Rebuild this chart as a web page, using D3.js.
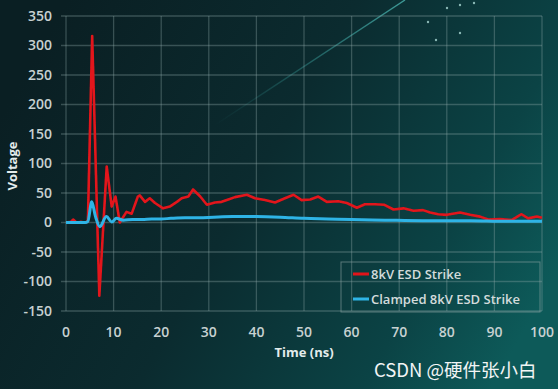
<!DOCTYPE html>
<html>
<head>
<meta charset="utf-8">
<script src="https://cdn.jsdelivr.net/npm/d3@7"></script>
<style>
  html, body { margin: 0; padding: 0; background: #0b2226; }
  svg { display: block; }
</style>
</head>
<body>
<svg id="chart" width="558" height="389"></svg>
<script>
// values
const xTicks = [0, 10, 20, 30, 40, 50, 60, 70, 80, 90, 100];
const yTicks = [-150, -100, -50, 0, 50, 100, 150, 200, 250, 300, 350];
const seriesNames = ["8kV ESD Strike", "Clamped 8kV ESD Strike"];

const strikeTime = [0, 1, 1.5, 2.2, 3, 4, 4.6, 5.5, 7.0, 8.55, 9.6, 10.4, 11.3, 12.7, 13.8, 15.1,
  15.5, 16.6, 17.6, 18.7, 20.4, 21.8, 23.3, 24.3, 25.7, 26.7, 28.2, 29.6, 31.3, 32.7, 34.1,
  35.5, 38, 39.7, 41.8, 43.9, 46, 47.8, 49.5, 51.3, 53, 54.8, 57.2, 59, 61.1, 62.8, 64.9, 66.9,
  68.8, 70.9, 73, 75, 76.5, 78.2, 80, 82.8, 84.9, 87, 88.7, 91.2, 93.6, 95.7, 97.1, 98.9, 100];
const strikeVolts = [0, 1, 5, 0, 1, 0, 2, 316, -124, 95, 27, 44, 0, 18, 15, 44,
  46, 35, 41, 33, 24, 27, 35, 41, 44, 56, 44, 30, 34, 35, 39,
  43, 47, 41, 38, 34, 41, 47, 38, 39, 44, 35, 36, 33, 25, 31, 31, 30,
  22, 24, 20, 21, 17, 14, 13, 17, 13, 10, 5, 6, 4, 14, 7, 10, 8];

const clampTime = [0, 2, 4, 4.6, 5.4, 6.2, 7.1, 8.5, 9.6, 10.6, 12, 14, 16, 18, 20, 22, 25,
  28, 31, 35, 40, 45, 50, 55, 60, 67, 75, 85, 92, 100];
const clampVolts = [0, 0, 0, 2, 35, 10, -7, 10, 1, 7, 4, 5, 5, 6, 6, 7, 8,
  8, 9, 10, 10, 9, 7, 6, 5, 4, 3, 3, 2, 2];

const colors = ["#e2141a", "#2fb4e6"];

const svg = d3.select("#chart");
const W = 558, H = 389;
const margin = { top: 16, right: 16, bottom: 78, left: 66 };
const iw = W - margin.left - margin.right;
const ih = H - margin.top - margin.bottom;

// background
const defs = svg.append("defs");
const bg = defs.append("linearGradient").attr("id", "bg")
  .attr("x1", "0%").attr("y1", "30%").attr("x2", "100%").attr("y2", "70%");
bg.append("stop").attr("offset", "0%").attr("stop-color", "#0a1f23");
bg.append("stop").attr("offset", "45%").attr("stop-color", "#0b2b2f");
bg.append("stop").attr("offset", "80%").attr("stop-color", "#0b4345");
bg.append("stop").attr("offset", "100%").attr("stop-color", "#0d5a59");
svg.append("rect").attr("width", W).attr("height", H).attr("fill", "url(#bg)");

const glow = defs.append("linearGradient").attr("id", "streak")
  .attr("x1", "0%").attr("y1", "100%").attr("x2", "100%").attr("y2", "0%");
glow.append("stop").attr("offset", "0%").attr("stop-color", "#3fc9c4").attr("stop-opacity", 0);
glow.append("stop").attr("offset", "100%").attr("stop-color", "#5fe0d8").attr("stop-opacity", 0.6);
svg.append("line").attr("x1", 215).attr("y1", 125).attr("x2", 405).attr("y2", 0)
  .attr("stroke", "url(#streak)").attr("stroke-width", 1.4);
const stars = [[428, 22], [436, 40], [447, 8], [460, 5], [474, 3], [460, 33]];
svg.selectAll("circle.star").data(stars).join("circle").attr("class", "star")
  .attr("cx", d => d[0]).attr("cy", d => d[1]).attr("r", 1.2)
  .attr("fill", "#bfeee8").attr("opacity", 0.7);

const x = d3.scaleLinear().domain([0, 100]).range([0, iw]);
const y = d3.scaleLinear().domain([-150, 350]).range([ih, 0]);

const g = svg.append("g").attr("transform", `translate(${margin.left},${margin.top})`);

// grid
g.append("g").selectAll("line").data(yTicks).join("line")
  .attr("x1", -5).attr("x2", iw).attr("y1", d => y(d)).attr("y2", d => y(d))
  .attr("stroke", "#8fa9a8").attr("stroke-opacity", 0.35).attr("stroke-width", 1.3);
g.append("g").selectAll("line").data(xTicks).join("line")
  .attr("y1", 0).attr("y2", ih).attr("x1", d => x(d)).attr("x2", d => x(d))
  .attr("stroke", "#8fa9a8").attr("stroke-opacity", 0.35).attr("stroke-width", 1.3);

// tick labels
const tickFont = "'Open Sans', 'DejaVu Sans', sans-serif";
g.append("g").selectAll("text").data(yTicks).join("text")
  .attr("x", -14).attr("y", d => y(d)).attr("dy", "0.35em")
  .attr("text-anchor", "end").attr("fill", "#c7d1d1")
  .style("font-family", tickFont).style("font-size", "14px").style("font-weight", 600)
  .text(d => d);
g.append("g").selectAll("text").data(xTicks).join("text")
  .attr("x", d => x(d)).attr("y", ih + 21).attr("dy", "0.35em")
  .attr("text-anchor", "middle").attr("fill", "#c7d1d1")
  .style("font-family", tickFont).style("font-size", "14px").style("font-weight", 600)
  .text(d => d);

// axis titles
svg.append("text").attr("x", 304).attr("y", 357).attr("text-anchor", "middle")
  .attr("fill", "#e4ecec").style("font-family", tickFont)
  .style("font-size", "13px").style("font-weight", 700).text("Time (ns)");
svg.append("text").attr("transform", "translate(17,166) rotate(-90)")
  .attr("text-anchor", "middle").attr("fill", "#e4ecec").style("font-family", tickFont)
  .style("font-size", "13px").style("font-weight", 700).text("Voltage");

// lines
const line = d3.line().x(d => x(d[0])).y(d => y(d[1]));
const strike = d3.zip(strikeTime, strikeVolts);
const clamped = d3.zip(clampTime, clampVolts);

const blur = defs.append("filter").attr("id", "soft");
blur.append("feGaussianBlur").attr("stdDeviation", 0.6);

g.append("path").datum(strike).attr("d", line).attr("fill", "none")
  .attr("stroke", colors[0]).attr("stroke-width", 2.6).attr("stroke-linejoin", "round")
  .attr("filter", "url(#soft)");
g.append("path").datum(clamped).attr("d", line.curve(d3.curveMonotoneX)).attr("fill", "none")
  .attr("stroke", colors[1]).attr("stroke-width", 3).attr("stroke-linejoin", "round")
  .attr("filter", "url(#soft)");

// legend
const lg = svg.append("g").attr("transform", "translate(341,262)");
lg.append("rect").attr("width", 199).attr("height", 50).attr("fill", "none")
  .attr("stroke", "#8ea5a5").attr("stroke-opacity", 0.6).attr("stroke-width", 1);
const items = lg.selectAll("g").data(seriesNames).join("g")
  .attr("transform", (d, i) => `translate(0,${12 + i * 25})`);
items.append("line").attr("x1", 12).attr("x2", 28).attr("y1", 0).attr("y2", 0)
  .attr("stroke", (d, i) => colors[i]).attr("stroke-width", 3);
items.append("text").attr("x", 30).attr("y", 0).attr("dy", "0.35em")
  .attr("fill", "#d3dbdb").style("font-family", tickFont)
  .style("font-size", "13px").style("font-weight", 600).text(d => d);

// watermark
svg.append("text").attr("x", 374).attr("y", 377).attr("fill", "#f2f5f5")
  .style("font-family", "'Noto Sans CJK SC', 'Noto Sans', sans-serif")
  .style("font-size", "18.5px").text("CSDN @硬件张小白");
</script>
</body>
</html>
